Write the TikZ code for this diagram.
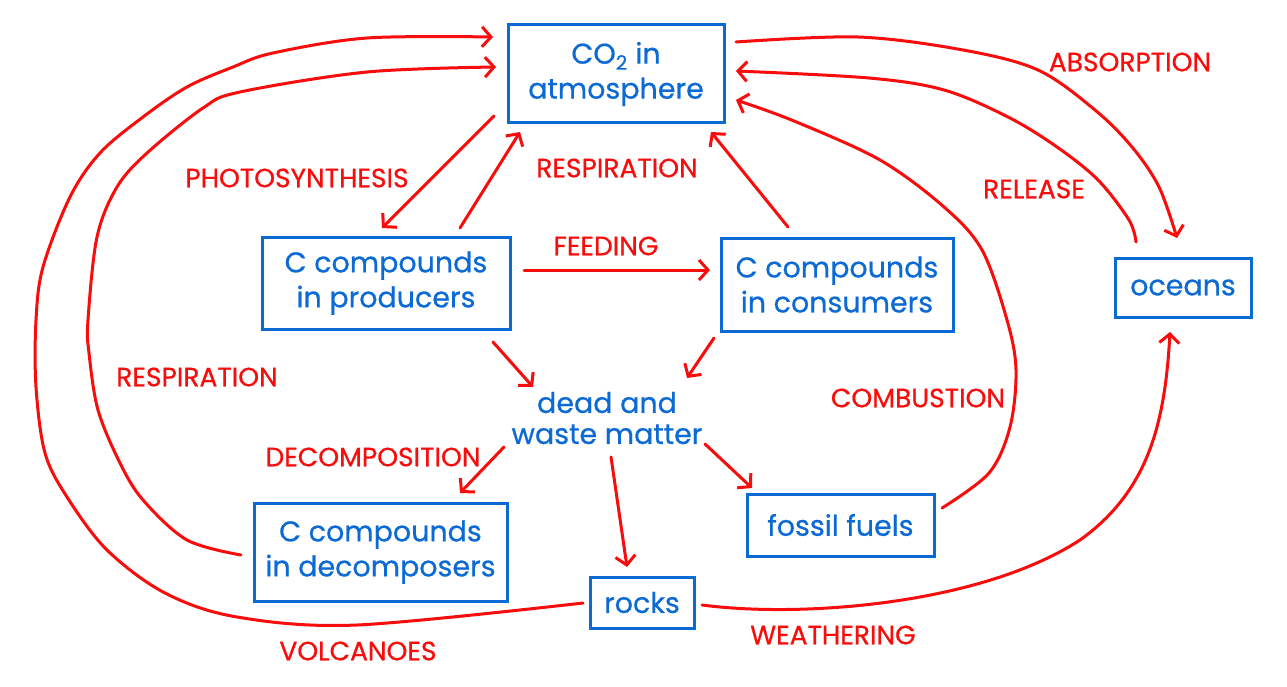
\documentclass[tikz,border=0pt]{standalone}
\usepackage{fontspec}
\setmainfont{Poppins}[FakeBold=0.6]
\usetikzlibrary{arrows.meta}
\definecolor{cblue}{RGB}{12,106,212}
\definecolor{cred}{RGB}{248,12,12}
\begin{document}
\begin{tikzpicture}[x=1pt,y=-1pt,
 box/.style={draw=cblue, line width=3pt, text=cblue, align=center, font=\fontsize{28.5}{35}\selectfont, inner sep=0pt},
 txt/.style={text=cblue, align=center, font=\fontsize{28.5}{31}\selectfont, inner sep=0pt},
 lbl/.style={text=cred, font=\fontsize{26.5}{28}\selectfont, inner sep=0pt},
 arr/.style={draw=cred, line width=3pt, line cap=round, line join=round, -{Straight Barb[length=9pt,width=20pt]}}]
\fill[white] (0,0) rectangle (1287,687);
\useasboundingbox (0,0) rectangle (1287,687);
% boxes
\node[box, minimum width=216pt, minimum height=98pt] (co2) at (616,74) {CO\textsubscript{2} in\\atmosphere};
\node[box, minimum width=248pt, minimum height=92pt] (prod) at (386,283) {C compounds\\in producers};
\node[box, minimum width=232pt, minimum height=93pt] (cons) at (837,284.5) {C compounds\\in consumers};
\node[box, minimum width=136pt, minimum height=59pt] (ocean) at (1183,287.5) {oceans};
\node[box, minimum width=253pt, minimum height=98pt] (decomp) at (380.5,552) {C compounds\\in decomposers};
\node[box, minimum width=187pt, minimum height=62pt] (fossil) at (840.5,525) {fossil fuels};
\node[box, minimum width=104pt, minimum height=51pt] (rocks) at (642,602.5) {rocks};
\node[txt] (dead) at (607,418) {dead and\\waste matter};
% labels
\node[lbl] (lphoto) at (297,178) {PHOTOSYNTHESIS};
\node[lbl] (lresp1) at (617,168) {RESPIRATION};
\node[lbl] (lfeed) at (606,246) {FEEDING};
\node[lbl] (labs) at (1130,62) {ABSORPTION};
\node[lbl] (lrel) at (1034,189) {RELEASE};
\node[lbl] (lresp2) at (197,377) {RESPIRATION};
\node[lbl] (lcomb) at (918,398) {COMBUSTION};
\node[lbl] (ldec) at (373,457) {DECOMPOSITION};
\node[lbl] (lvol) at (358,651) {VOLCANOES};
\node[lbl] (lweath) at (833,635) {WEATHERING};
% connector endpoints
\coordinate (photoS) at (494,116);
\coordinate (photoE) at (382,228);
\coordinate (prespS) at (460,228);
\coordinate (prespE) at (520,132);
\coordinate (crespS) at (788,227);
\coordinate (crespE) at (711,132);
\coordinate (feedS) at (524,270);
\coordinate (feedE) at (710,270);
\coordinate (pdS) at (493,342);
\coordinate (pdE) at (533,387);
\coordinate (cdS) at (714,338);
\coordinate (cdE) at (687,378);
\coordinate (ddS) at (504,447);
\coordinate (ddE) at (460,493);
\coordinate (drS) at (611,457);
\coordinate (drE) at (627,567);
\coordinate (dfS) at (705,444);
\coordinate (dfE) at (752,488);
\coordinate (absS) at (736,42);
\coordinate (absE) at (1177,238);
\coordinate (relS) at (1136,242);
\coordinate (relE) at (736,71);
\coordinate (combS) at (942,508);
\coordinate (combE) at (736,100);
\coordinate (weaS) at (702,605);
\coordinate (weaE) at (1170,332);
\coordinate (volS) at (583,603);
\coordinate (volE) at (493,37);
\coordinate (resS) at (241,555);
\coordinate (resE) at (496,67);
% straight arrows
\draw[arr] (photoS) -- (photoE);
\draw[arr] (prespS) -- (prespE);
\draw[arr] (crespS) -- (crespE);
\draw[arr] (feedS) -- (feedE);
\draw[arr] (pdS) -- (pdE);
\draw[arr] (cdS) -- (cdE);
\draw[arr] (ddS) -- (ddE);
\draw[arr] (drS) -- (drE);
\draw[arr] (dfS) -- (dfE);
% curved arrows
\draw[arr] plot[smooth, tension=0.55] coordinates {(absS) (858,37) (963,50) (1038,70) (1095,110) (1132,147) (1159,187) (absE)};
\draw[arr] plot[smooth, tension=0.55] coordinates {(relS) (1129,220) (1098,180) (1057,147) (1008,117) (944,90) (869,78) (relE)};
\draw[arr] plot[smooth, tension=0.55] coordinates {(combS) (989,473) (1010,427) (1016,370) (1007,320) (982,250) (944,207) (880,160) (794,121) (combE)};
\draw[arr] (weaS) .. controls (800,618) and (980,605) .. (1080,540) .. controls (1150,490) and (1165,420) .. (weaE);
\draw[arr] plot[smooth, tension=0.55] coordinates {(volS) (357,625) (237,617) (165,593) (107,550) (67,497) (45,453) (36,387) (36,320) (43,267) (70,197) (100,153) (143,117) (187,87) (233,67) (273,53) (367,38) (volE)};
\draw[arr] plot[smooth, tension=0.55] coordinates {(resS) (187,540) (143,500) (120,463) (98,410) (89,353) (88,320) (97,237) (117,187) (147,153) (203,108) (240,92) (367,72) (resE)};
\end{tikzpicture}
\end{document}
